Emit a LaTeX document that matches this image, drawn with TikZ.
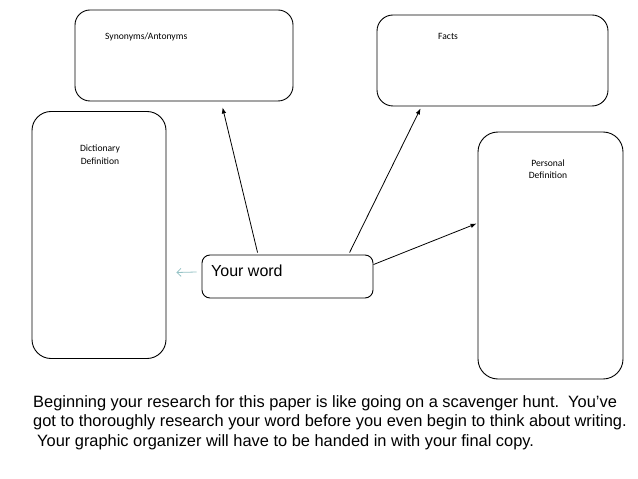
\documentclass[tikz,border=0pt]{standalone}
\usepackage{fontspec}
\setmainfont{Liberation Sans}
\newfontfamily\smallfont{Carlito}
\usetikzlibrary{arrows.meta}
\definecolor{paleteal}{RGB}{150,195,198}
\tikzset{
  box/.style={draw=black, line width=0.9bp, fill=none, inner sep=0pt},
  lbl/.style={font=\smallfont\fontsize{9.6bp}{12bp}\selectfont, anchor=base, inner sep=0pt},
  arr/.style={draw=black, line width=0.8bp, -{Latex[length=6bp,width=4.5bp]}},
  palearr/.style={draw=paleteal, line width=0.8bp, -{Straight Barb[length=4bp,width=8bp]}},
}
\begin{document}
\begin{tikzpicture}[x=1bp,y=-1bp]
\useasboundingbox (0,0) rectangle (638,479);
\fill[white] (0,0) rectangle (638,479);
% boxes
\node[box, rounded corners=15bp, minimum width=218bp, minimum height=91bp] (syn) at (184,55.5) {};
\node[box, rounded corners=16bp, minimum width=231bp, minimum height=91bp] (facts) at (492.5,60.5) {};
\node[box, rounded corners=19bp, minimum width=134bp, minimum height=247bp] (dict) at (99,235) {};
\node[box, rounded corners=20bp, minimum width=145bp, minimum height=247bp] (pers) at (550.5,255.5) {};
\node[box, rounded corners=8bp, minimum width=171bp, minimum height=43bp] (word) at (287.5,276.5) {};
% labels
\node[lbl, anchor=base west] (synt) at (105,40) {Synonyms/Antonyms};
\node[lbl, anchor=base west] (factst) at (438,40) {Facts};
\node[lbl] (dictt1) at (100,152) {Dictionary};
\node[lbl] (dictt2) at (100,165) {Definition};
\node[lbl] (perst1) at (548,167) {Personal};
\node[lbl] (perst2) at (548,179) {Definition};
\node[anchor=base west, inner sep=0pt, font=\fontsize{16bp}{18bp}\selectfont] (wordt) at (211,276.7) {Your word};
% connectors
\draw[arr] ([xshift=56bp,yshift=2bp]word.north west) -- ([xshift=148bp,yshift=-6bp]syn.south west);
\draw[arr] ([xshift=148bp,yshift=2bp]word.north west) -- ([xshift=44bp,yshift=-2bp]facts.south west);
\draw[arr] ([yshift=-10bp]word.north east) -- ([xshift=-1bp,yshift=-92bp]pers.north west);
\draw[palearr] ([xshift=-5bp,yshift=4.5bp]word.west) -- ([xshift=10bp,yshift=-37.5bp]dict.east);
% bottom text
\node[anchor=base west, inner sep=0pt, align=left, font=\fontsize{16.4bp}{19.5bp}\selectfont] (para) at (33,446)
{Beginning your research for this paper is like going on a scavenger hunt.\ \ You’ve\\
got to thoroughly research your word before you even begin to think about writing.\\
\hspace*{4bp}Your graphic organizer will have to be handed in with your final copy.};
\end{tikzpicture}
\end{document}
